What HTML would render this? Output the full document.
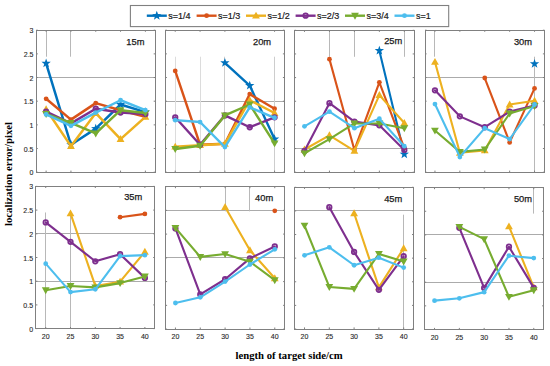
<!DOCTYPE html>
<html><head><meta charset="utf-8"><style>
html,body{margin:0;padding:0;background:#fff;}
body{width:550px;height:366px;overflow:hidden;}
svg{display:block;}
.t{font-family:"Liberation Sans",sans-serif;font-size:9.3px;fill:#1a1a1a;stroke:#1a1a1a;stroke-width:0.25px;}
.lg{font-family:"Liberation Sans",sans-serif;font-size:9px;fill:#1a1a1a;stroke:#1a1a1a;stroke-width:0.2px;}
.tk{font-family:"Liberation Sans",sans-serif;font-size:7px;fill:#2a2a2a;stroke:#2a2a2a;stroke-width:0.12px;}
.lab{font-family:"Liberation Serif",serif;font-size:10.7px;font-weight:bold;fill:#000;}
</style></head><body>
<svg width="550" height="366" viewBox="0 0 550 366">
<rect width="550" height="366" fill="#fff"/>
<line x1="36.2" y1="77.5" x2="155.3" y2="77.5" stroke="#ababab" stroke-width="1"/>
<line x1="46.5" y1="30.2" x2="46.5" y2="56.71" stroke="#b8b8b8" stroke-width="1"/>
<line x1="70.5" y1="30.2" x2="70.5" y2="56.71" stroke="#b8b8b8" stroke-width="1"/>
<line x1="46.12" y1="172.2" x2="46.12" y2="170.6" stroke="#808080" stroke-width="1"/>
<line x1="46.12" y1="30.2" x2="46.12" y2="31.8" stroke="#808080" stroke-width="1"/>
<line x1="70.94" y1="172.2" x2="70.94" y2="170.6" stroke="#808080" stroke-width="1"/>
<line x1="70.94" y1="30.2" x2="70.94" y2="31.8" stroke="#808080" stroke-width="1"/>
<line x1="95.75" y1="172.2" x2="95.75" y2="170.6" stroke="#808080" stroke-width="1"/>
<line x1="95.75" y1="30.2" x2="95.75" y2="31.8" stroke="#808080" stroke-width="1"/>
<line x1="120.56" y1="172.2" x2="120.56" y2="170.6" stroke="#808080" stroke-width="1"/>
<line x1="120.56" y1="30.2" x2="120.56" y2="31.8" stroke="#808080" stroke-width="1"/>
<line x1="145.38" y1="172.2" x2="145.38" y2="170.6" stroke="#808080" stroke-width="1"/>
<line x1="145.38" y1="30.2" x2="145.38" y2="31.8" stroke="#808080" stroke-width="1"/>
<line x1="36.2" y1="172.2" x2="37.8" y2="172.2" stroke="#808080" stroke-width="1"/>
<line x1="155.3" y1="172.2" x2="153.7" y2="172.2" stroke="#808080" stroke-width="1"/>
<line x1="36.2" y1="148.53" x2="37.8" y2="148.53" stroke="#808080" stroke-width="1"/>
<line x1="155.3" y1="148.53" x2="153.7" y2="148.53" stroke="#808080" stroke-width="1"/>
<line x1="36.2" y1="124.87" x2="37.8" y2="124.87" stroke="#808080" stroke-width="1"/>
<line x1="155.3" y1="124.87" x2="153.7" y2="124.87" stroke="#808080" stroke-width="1"/>
<line x1="36.2" y1="101.2" x2="37.8" y2="101.2" stroke="#808080" stroke-width="1"/>
<line x1="155.3" y1="101.2" x2="153.7" y2="101.2" stroke="#808080" stroke-width="1"/>
<line x1="36.2" y1="77.53" x2="37.8" y2="77.53" stroke="#808080" stroke-width="1"/>
<line x1="155.3" y1="77.53" x2="153.7" y2="77.53" stroke="#808080" stroke-width="1"/>
<line x1="36.2" y1="53.87" x2="37.8" y2="53.87" stroke="#808080" stroke-width="1"/>
<line x1="155.3" y1="53.87" x2="153.7" y2="53.87" stroke="#808080" stroke-width="1"/>
<line x1="36.2" y1="30.2" x2="37.8" y2="30.2" stroke="#808080" stroke-width="1"/>
<line x1="155.3" y1="30.2" x2="153.7" y2="30.2" stroke="#808080" stroke-width="1"/>
<rect x="36.5" y="30.5" width="119" height="142" fill="none" stroke="#808080" stroke-width="1"/>
<polyline points="46.12,63.33 70.94,144.75 95.75,128.65 120.56,104.51 145.38,112.09" fill="none" stroke="#0072BD" stroke-width="2.5" stroke-linejoin="round" stroke-linecap="round"/>
<polygon points="46.12,58.43 47.3,61.72 50.79,61.82 48.03,63.95 49.01,67.3 46.12,65.33 43.24,67.3 44.22,63.95 41.46,61.82 44.95,61.72" fill="#0072BD"/>
<polygon points="70.94,139.85 72.11,143.13 75.6,143.23 72.84,145.36 73.82,148.71 70.94,146.75 68.06,148.71 69.04,145.36 66.28,143.23 69.76,143.13" fill="#0072BD"/>
<polygon points="95.75,123.75 96.93,127.04 100.41,127.14 97.65,129.27 98.63,132.62 95.75,130.65 92.87,132.62 93.85,129.27 91.09,127.14 94.57,127.04" fill="#0072BD"/>
<polygon points="120.56,99.61 121.74,102.9 125.22,103 122.46,105.13 123.44,108.48 120.56,106.51 117.68,108.48 118.66,105.13 115.9,103 119.39,102.9" fill="#0072BD"/>
<polygon points="145.38,107.19 146.55,110.47 150.04,110.57 147.28,112.7 148.26,116.05 145.38,114.09 142.49,116.05 143.47,112.7 140.71,110.57 144.2,110.47" fill="#0072BD"/>
<polyline points="46.12,98.83 70.94,119.66 95.75,103.09 120.56,110.19 145.38,116.82" fill="none" stroke="#D95319" stroke-width="2.5" stroke-linejoin="round" stroke-linecap="round"/>
<circle cx="46.12" cy="98.83" r="2.4" fill="#D95319"/>
<circle cx="70.94" cy="119.66" r="2.4" fill="#D95319"/>
<circle cx="95.75" cy="103.09" r="2.4" fill="#D95319"/>
<circle cx="120.56" cy="110.19" r="2.4" fill="#D95319"/>
<circle cx="145.38" cy="116.82" r="2.4" fill="#D95319"/>
<polyline points="46.12,109.25 70.94,146.17 95.75,113.03 120.56,139.07 145.38,116.82" fill="none" stroke="#EDB120" stroke-width="2.5" stroke-linejoin="round" stroke-linecap="round"/>
<polygon points="46.12,105.25 42.23,112.15 50.02,112.15" fill="#EDB120"/>
<polygon points="70.94,142.17 67.04,149.07 74.84,149.07" fill="#EDB120"/>
<polygon points="95.75,109.03 91.85,115.93 99.65,115.93" fill="#EDB120"/>
<polygon points="120.56,135.07 116.66,141.97 124.46,141.97" fill="#EDB120"/>
<polygon points="145.38,112.82 141.47,119.72 149.28,119.72" fill="#EDB120"/>
<polyline points="46.12,111.61 70.94,123.45 95.75,108.77 120.56,112.56 145.38,113.98" fill="none" stroke="#7E2F8E" stroke-width="2.5" stroke-linejoin="round" stroke-linecap="round"/>
<circle cx="46.12" cy="111.61" r="2.25" fill="none" stroke="#7E2F8E" stroke-width="1.8"/>
<circle cx="70.94" cy="123.45" r="2.25" fill="none" stroke="#7E2F8E" stroke-width="1.8"/>
<circle cx="95.75" cy="108.77" r="2.25" fill="none" stroke="#7E2F8E" stroke-width="1.8"/>
<circle cx="120.56" cy="112.56" r="2.25" fill="none" stroke="#7E2F8E" stroke-width="1.8"/>
<circle cx="145.38" cy="113.98" r="2.25" fill="none" stroke="#7E2F8E" stroke-width="1.8"/>
<polyline points="46.12,113.98 70.94,122.97 95.75,133.39 120.56,110.19 145.38,113.03" fill="none" stroke="#77AC30" stroke-width="2.5" stroke-linejoin="round" stroke-linecap="round"/>
<polygon points="46.12,117.98 42.23,111.08 50.02,111.08" fill="#77AC30"/>
<polygon points="70.94,126.97 67.04,120.07 74.84,120.07" fill="#77AC30"/>
<polygon points="95.75,137.39 91.85,130.49 99.65,130.49" fill="#77AC30"/>
<polygon points="120.56,114.19 116.66,107.29 124.46,107.29" fill="#77AC30"/>
<polygon points="145.38,117.03 141.47,110.13 149.28,110.13" fill="#77AC30"/>
<polyline points="46.12,114.45 70.94,125.81 95.75,112.56 120.56,100.25 145.38,110.19" fill="none" stroke="#4DBEEE" stroke-width="2.5" stroke-linejoin="round" stroke-linecap="round"/>
<circle cx="46.12" cy="114.45" r="2.4" fill="#4DBEEE"/>
<circle cx="70.94" cy="125.81" r="2.4" fill="#4DBEEE"/>
<circle cx="95.75" cy="112.56" r="2.4" fill="#4DBEEE"/>
<circle cx="120.56" cy="100.25" r="2.4" fill="#4DBEEE"/>
<circle cx="145.38" cy="110.19" r="2.4" fill="#4DBEEE"/>
<text x="144.4" y="44.7" text-anchor="end" class="t">15m</text>
<text x="33.5" y="175.2" text-anchor="end" class="tk">0</text>
<text x="33.5" y="151.53" text-anchor="end" class="tk">0.5</text>
<text x="33.5" y="127.87" text-anchor="end" class="tk">1</text>
<text x="33.5" y="104.2" text-anchor="end" class="tk">1.5</text>
<text x="33.5" y="80.53" text-anchor="end" class="tk">2</text>
<text x="33.5" y="56.87" text-anchor="end" class="tk">2.5</text>
<text x="33.5" y="33.2" text-anchor="end" class="tk">3</text>
<line x1="165.3" y1="101.5" x2="284.5" y2="101.5" stroke="#ababab" stroke-width="1"/>
<line x1="175.5" y1="56.71" x2="175.5" y2="172.2" stroke="#dcdcdc" stroke-width="1"/>
<line x1="200.5" y1="56.71" x2="200.5" y2="172.2" stroke="#dcdcdc" stroke-width="1"/>
<line x1="224.5" y1="56.71" x2="224.5" y2="172.2" stroke="#cdcdcd" stroke-width="1"/>
<line x1="274.5" y1="56.71" x2="274.5" y2="172.2" stroke="#cdcdcd" stroke-width="1"/>
<line x1="175.23" y1="172.2" x2="175.23" y2="170.6" stroke="#808080" stroke-width="1"/>
<line x1="175.23" y1="30.2" x2="175.23" y2="31.8" stroke="#808080" stroke-width="1"/>
<line x1="200.07" y1="172.2" x2="200.07" y2="170.6" stroke="#808080" stroke-width="1"/>
<line x1="200.07" y1="30.2" x2="200.07" y2="31.8" stroke="#808080" stroke-width="1"/>
<line x1="224.9" y1="172.2" x2="224.9" y2="170.6" stroke="#808080" stroke-width="1"/>
<line x1="224.9" y1="30.2" x2="224.9" y2="31.8" stroke="#808080" stroke-width="1"/>
<line x1="249.73" y1="172.2" x2="249.73" y2="170.6" stroke="#808080" stroke-width="1"/>
<line x1="249.73" y1="30.2" x2="249.73" y2="31.8" stroke="#808080" stroke-width="1"/>
<line x1="274.57" y1="172.2" x2="274.57" y2="170.6" stroke="#808080" stroke-width="1"/>
<line x1="274.57" y1="30.2" x2="274.57" y2="31.8" stroke="#808080" stroke-width="1"/>
<line x1="165.3" y1="172.2" x2="166.9" y2="172.2" stroke="#808080" stroke-width="1"/>
<line x1="284.5" y1="172.2" x2="282.9" y2="172.2" stroke="#808080" stroke-width="1"/>
<line x1="165.3" y1="148.53" x2="166.9" y2="148.53" stroke="#808080" stroke-width="1"/>
<line x1="284.5" y1="148.53" x2="282.9" y2="148.53" stroke="#808080" stroke-width="1"/>
<line x1="165.3" y1="124.87" x2="166.9" y2="124.87" stroke="#808080" stroke-width="1"/>
<line x1="284.5" y1="124.87" x2="282.9" y2="124.87" stroke="#808080" stroke-width="1"/>
<line x1="165.3" y1="101.2" x2="166.9" y2="101.2" stroke="#808080" stroke-width="1"/>
<line x1="284.5" y1="101.2" x2="282.9" y2="101.2" stroke="#808080" stroke-width="1"/>
<line x1="165.3" y1="77.53" x2="166.9" y2="77.53" stroke="#808080" stroke-width="1"/>
<line x1="284.5" y1="77.53" x2="282.9" y2="77.53" stroke="#808080" stroke-width="1"/>
<line x1="165.3" y1="53.87" x2="166.9" y2="53.87" stroke="#808080" stroke-width="1"/>
<line x1="284.5" y1="53.87" x2="282.9" y2="53.87" stroke="#808080" stroke-width="1"/>
<line x1="165.3" y1="30.2" x2="166.9" y2="30.2" stroke="#808080" stroke-width="1"/>
<line x1="284.5" y1="30.2" x2="282.9" y2="30.2" stroke="#808080" stroke-width="1"/>
<rect x="165.5" y="30.5" width="119" height="142" fill="none" stroke="#808080" stroke-width="1"/>
<polyline points="224.9,62.86 249.73,85.58 274.57,139.07" fill="none" stroke="#0072BD" stroke-width="2.4" stroke-linejoin="round" stroke-linecap="round"/>
<polygon points="224.9,57.96 226.08,61.24 229.56,61.35 226.8,63.48 227.78,66.82 224.9,64.86 222.02,66.82 223,63.48 220.24,61.35 223.72,61.24" fill="#0072BD"/>
<polygon points="249.73,80.68 250.91,83.96 254.39,84.07 251.64,86.2 252.61,89.54 249.73,87.58 246.85,89.54 247.83,86.2 245.07,84.07 248.56,83.96" fill="#0072BD"/>
<polygon points="274.57,134.17 275.74,137.45 279.23,137.55 276.47,139.68 277.45,143.03 274.57,141.07 271.69,143.03 272.66,139.68 269.91,137.55 273.39,137.45" fill="#0072BD"/>
<polyline points="175.23,70.91 200.07,144.75 224.9,143.8 249.73,94.1 274.57,108.77" fill="none" stroke="#D95319" stroke-width="2.4" stroke-linejoin="round" stroke-linecap="round"/>
<circle cx="175.23" cy="70.91" r="2.4" fill="#D95319"/>
<circle cx="200.07" cy="144.75" r="2.4" fill="#D95319"/>
<circle cx="224.9" cy="143.8" r="2.4" fill="#D95319"/>
<circle cx="249.73" cy="94.1" r="2.4" fill="#D95319"/>
<circle cx="274.57" cy="108.77" r="2.4" fill="#D95319"/>
<polyline points="175.23,146.64 200.07,145.22 224.9,143.8 249.73,100.25 274.57,113.03" fill="none" stroke="#EDB120" stroke-width="2.4" stroke-linejoin="round" stroke-linecap="round"/>
<polygon points="175.23,142.64 171.33,149.54 179.13,149.54" fill="#EDB120"/>
<polygon points="200.07,141.22 196.17,148.12 203.97,148.12" fill="#EDB120"/>
<polygon points="224.9,139.8 221,146.7 228.8,146.7" fill="#EDB120"/>
<polygon points="249.73,96.25 245.83,103.15 253.63,103.15" fill="#EDB120"/>
<polygon points="274.57,109.03 270.67,115.93 278.47,115.93" fill="#EDB120"/>
<polyline points="175.23,117.29 200.07,144.75 224.9,115.4 249.73,127.23 274.57,117.29" fill="none" stroke="#7E2F8E" stroke-width="2.4" stroke-linejoin="round" stroke-linecap="round"/>
<circle cx="175.23" cy="117.29" r="2.25" fill="none" stroke="#7E2F8E" stroke-width="1.8"/>
<circle cx="200.07" cy="144.75" r="2.25" fill="none" stroke="#7E2F8E" stroke-width="1.8"/>
<circle cx="224.9" cy="115.4" r="2.25" fill="none" stroke="#7E2F8E" stroke-width="1.8"/>
<circle cx="249.73" cy="127.23" r="2.25" fill="none" stroke="#7E2F8E" stroke-width="1.8"/>
<circle cx="274.57" cy="117.29" r="2.25" fill="none" stroke="#7E2F8E" stroke-width="1.8"/>
<polyline points="175.23,149.01 200.07,145.69 224.9,115.4 249.73,104.51 274.57,143.33" fill="none" stroke="#77AC30" stroke-width="2.4" stroke-linejoin="round" stroke-linecap="round"/>
<polygon points="175.23,153.01 171.33,146.11 179.13,146.11" fill="#77AC30"/>
<polygon points="200.07,149.69 196.17,142.79 203.97,142.79" fill="#77AC30"/>
<polygon points="224.9,119.4 221,112.5 228.8,112.5" fill="#77AC30"/>
<polygon points="249.73,108.51 245.83,101.61 253.63,101.61" fill="#77AC30"/>
<polygon points="274.57,147.33 270.67,140.43 278.47,140.43" fill="#77AC30"/>
<polyline points="175.23,120.13 200.07,122.03 224.9,147.11 249.73,107.35 274.57,117.77" fill="none" stroke="#4DBEEE" stroke-width="2.4" stroke-linejoin="round" stroke-linecap="round"/>
<circle cx="175.23" cy="120.13" r="2.4" fill="#4DBEEE"/>
<circle cx="200.07" cy="122.03" r="2.4" fill="#4DBEEE"/>
<circle cx="224.9" cy="147.11" r="2.4" fill="#4DBEEE"/>
<circle cx="249.73" cy="107.35" r="2.4" fill="#4DBEEE"/>
<circle cx="274.57" cy="117.77" r="2.4" fill="#4DBEEE"/>
<text x="271.1" y="44.5" text-anchor="end" class="t">20m</text>
<line x1="294.5" y1="148.5" x2="414.3" y2="148.5" stroke="#ababab" stroke-width="1"/>
<line x1="329.5" y1="30.3" x2="329.5" y2="56.79" stroke="#b8b8b8" stroke-width="1"/>
<line x1="354.5" y1="30.3" x2="354.5" y2="56.79" stroke="#b8b8b8" stroke-width="1"/>
<line x1="404.5" y1="30.3" x2="404.5" y2="56.79" stroke="#b8b8b8" stroke-width="1"/>
<line x1="304.48" y1="172.2" x2="304.48" y2="170.6" stroke="#808080" stroke-width="1"/>
<line x1="304.48" y1="30.3" x2="304.48" y2="31.9" stroke="#808080" stroke-width="1"/>
<line x1="329.44" y1="172.2" x2="329.44" y2="170.6" stroke="#808080" stroke-width="1"/>
<line x1="329.44" y1="30.3" x2="329.44" y2="31.9" stroke="#808080" stroke-width="1"/>
<line x1="354.4" y1="172.2" x2="354.4" y2="170.6" stroke="#808080" stroke-width="1"/>
<line x1="354.4" y1="30.3" x2="354.4" y2="31.9" stroke="#808080" stroke-width="1"/>
<line x1="379.36" y1="172.2" x2="379.36" y2="170.6" stroke="#808080" stroke-width="1"/>
<line x1="379.36" y1="30.3" x2="379.36" y2="31.9" stroke="#808080" stroke-width="1"/>
<line x1="404.32" y1="172.2" x2="404.32" y2="170.6" stroke="#808080" stroke-width="1"/>
<line x1="404.32" y1="30.3" x2="404.32" y2="31.9" stroke="#808080" stroke-width="1"/>
<line x1="294.5" y1="172.2" x2="296.1" y2="172.2" stroke="#808080" stroke-width="1"/>
<line x1="414.3" y1="172.2" x2="412.7" y2="172.2" stroke="#808080" stroke-width="1"/>
<line x1="294.5" y1="148.55" x2="296.1" y2="148.55" stroke="#808080" stroke-width="1"/>
<line x1="414.3" y1="148.55" x2="412.7" y2="148.55" stroke="#808080" stroke-width="1"/>
<line x1="294.5" y1="124.9" x2="296.1" y2="124.9" stroke="#808080" stroke-width="1"/>
<line x1="414.3" y1="124.9" x2="412.7" y2="124.9" stroke="#808080" stroke-width="1"/>
<line x1="294.5" y1="101.25" x2="296.1" y2="101.25" stroke="#808080" stroke-width="1"/>
<line x1="414.3" y1="101.25" x2="412.7" y2="101.25" stroke="#808080" stroke-width="1"/>
<line x1="294.5" y1="77.6" x2="296.1" y2="77.6" stroke="#808080" stroke-width="1"/>
<line x1="414.3" y1="77.6" x2="412.7" y2="77.6" stroke="#808080" stroke-width="1"/>
<line x1="294.5" y1="53.95" x2="296.1" y2="53.95" stroke="#808080" stroke-width="1"/>
<line x1="414.3" y1="53.95" x2="412.7" y2="53.95" stroke="#808080" stroke-width="1"/>
<line x1="294.5" y1="30.3" x2="296.1" y2="30.3" stroke="#808080" stroke-width="1"/>
<line x1="414.3" y1="30.3" x2="412.7" y2="30.3" stroke="#808080" stroke-width="1"/>
<rect x="294.5" y="30.5" width="120" height="142" fill="none" stroke="#808080" stroke-width="1"/>
<polyline points="379.36,50.64 404.32,154.23" fill="none" stroke="#0072BD" stroke-width="2.1" stroke-linejoin="round" stroke-linecap="round"/>
<polygon points="379.36,45.74 380.53,49.02 384.02,49.12 381.26,51.26 382.24,54.6 379.36,52.64 376.48,54.6 377.46,51.26 374.7,49.12 378.18,49.02" fill="#0072BD"/>
<polygon points="404.32,149.33 405.49,152.61 408.98,152.71 406.22,154.84 407.2,158.19 404.32,156.23 401.44,158.19 402.41,154.84 399.66,152.71 403.14,152.61" fill="#0072BD"/>
<polyline points="329.44,59.15 354.4,149.97 379.36,82.33 404.32,148.08" fill="none" stroke="#D95319" stroke-width="2.1" stroke-linejoin="round" stroke-linecap="round"/>
<circle cx="329.44" cy="59.15" r="2.4" fill="#D95319"/>
<circle cx="354.4" cy="149.97" r="2.4" fill="#D95319"/>
<circle cx="379.36" cy="82.33" r="2.4" fill="#D95319"/>
<circle cx="404.32" cy="148.08" r="2.4" fill="#D95319"/>
<polyline points="304.48,149.5 329.44,135.31 354.4,150.91 379.36,95.1 404.32,123.01" fill="none" stroke="#EDB120" stroke-width="2.1" stroke-linejoin="round" stroke-linecap="round"/>
<polygon points="304.48,145.5 300.58,152.4 308.38,152.4" fill="#EDB120"/>
<polygon points="329.44,131.31 325.54,138.21 333.34,138.21" fill="#EDB120"/>
<polygon points="354.4,146.91 350.5,153.81 358.3,153.81" fill="#EDB120"/>
<polygon points="379.36,91.1 375.46,98 383.26,98" fill="#EDB120"/>
<polygon points="404.32,119.01 400.42,125.91 408.22,125.91" fill="#EDB120"/>
<polyline points="304.48,150.91 329.44,103.14 354.4,121.59 379.36,125.37 404.32,149.97" fill="none" stroke="#7E2F8E" stroke-width="2.1" stroke-linejoin="round" stroke-linecap="round"/>
<circle cx="304.48" cy="150.91" r="2.25" fill="none" stroke="#7E2F8E" stroke-width="1.8"/>
<circle cx="329.44" cy="103.14" r="2.25" fill="none" stroke="#7E2F8E" stroke-width="1.8"/>
<circle cx="354.4" cy="121.59" r="2.25" fill="none" stroke="#7E2F8E" stroke-width="1.8"/>
<circle cx="379.36" cy="125.37" r="2.25" fill="none" stroke="#7E2F8E" stroke-width="1.8"/>
<circle cx="404.32" cy="149.97" r="2.25" fill="none" stroke="#7E2F8E" stroke-width="1.8"/>
<polyline points="304.48,153.28 329.44,139.09 354.4,123.48 379.36,123.48 404.32,128.21" fill="none" stroke="#77AC30" stroke-width="2.1" stroke-linejoin="round" stroke-linecap="round"/>
<polygon points="304.48,157.28 300.58,150.38 308.38,150.38" fill="#77AC30"/>
<polygon points="329.44,143.09 325.54,136.19 333.34,136.19" fill="#77AC30"/>
<polygon points="354.4,127.48 350.5,120.58 358.3,120.58" fill="#77AC30"/>
<polygon points="379.36,127.48 375.46,120.58 383.26,120.58" fill="#77AC30"/>
<polygon points="404.32,132.21 400.42,125.31 408.22,125.31" fill="#77AC30"/>
<polyline points="304.48,126.32 329.44,111.66 354.4,128.21 379.36,118.75 404.32,146.19" fill="none" stroke="#4DBEEE" stroke-width="2.1" stroke-linejoin="round" stroke-linecap="round"/>
<circle cx="304.48" cy="126.32" r="2.4" fill="#4DBEEE"/>
<circle cx="329.44" cy="111.66" r="2.4" fill="#4DBEEE"/>
<circle cx="354.4" cy="128.21" r="2.4" fill="#4DBEEE"/>
<circle cx="379.36" cy="118.75" r="2.4" fill="#4DBEEE"/>
<circle cx="404.32" cy="146.19" r="2.4" fill="#4DBEEE"/>
<text x="402.3" y="43.8" text-anchor="end" class="t">25m</text>
<line x1="425" y1="77.5" x2="544.5" y2="77.5" stroke="#ababab" stroke-width="1"/>
<line x1="434.5" y1="30.2" x2="434.5" y2="56.71" stroke="#b8b8b8" stroke-width="1"/>
<line x1="534.5" y1="56.71" x2="534.5" y2="172.2" stroke="#b8b8b8" stroke-width="1"/>
<line x1="434.96" y1="172.2" x2="434.96" y2="170.6" stroke="#808080" stroke-width="1"/>
<line x1="434.96" y1="30.2" x2="434.96" y2="31.8" stroke="#808080" stroke-width="1"/>
<line x1="459.85" y1="172.2" x2="459.85" y2="170.6" stroke="#808080" stroke-width="1"/>
<line x1="459.85" y1="30.2" x2="459.85" y2="31.8" stroke="#808080" stroke-width="1"/>
<line x1="484.75" y1="172.2" x2="484.75" y2="170.6" stroke="#808080" stroke-width="1"/>
<line x1="484.75" y1="30.2" x2="484.75" y2="31.8" stroke="#808080" stroke-width="1"/>
<line x1="509.65" y1="172.2" x2="509.65" y2="170.6" stroke="#808080" stroke-width="1"/>
<line x1="509.65" y1="30.2" x2="509.65" y2="31.8" stroke="#808080" stroke-width="1"/>
<line x1="534.54" y1="172.2" x2="534.54" y2="170.6" stroke="#808080" stroke-width="1"/>
<line x1="534.54" y1="30.2" x2="534.54" y2="31.8" stroke="#808080" stroke-width="1"/>
<line x1="425" y1="172.2" x2="426.6" y2="172.2" stroke="#808080" stroke-width="1"/>
<line x1="544.5" y1="172.2" x2="542.9" y2="172.2" stroke="#808080" stroke-width="1"/>
<line x1="425" y1="148.53" x2="426.6" y2="148.53" stroke="#808080" stroke-width="1"/>
<line x1="544.5" y1="148.53" x2="542.9" y2="148.53" stroke="#808080" stroke-width="1"/>
<line x1="425" y1="124.87" x2="426.6" y2="124.87" stroke="#808080" stroke-width="1"/>
<line x1="544.5" y1="124.87" x2="542.9" y2="124.87" stroke="#808080" stroke-width="1"/>
<line x1="425" y1="101.2" x2="426.6" y2="101.2" stroke="#808080" stroke-width="1"/>
<line x1="544.5" y1="101.2" x2="542.9" y2="101.2" stroke="#808080" stroke-width="1"/>
<line x1="425" y1="77.53" x2="426.6" y2="77.53" stroke="#808080" stroke-width="1"/>
<line x1="544.5" y1="77.53" x2="542.9" y2="77.53" stroke="#808080" stroke-width="1"/>
<line x1="425" y1="53.87" x2="426.6" y2="53.87" stroke="#808080" stroke-width="1"/>
<line x1="544.5" y1="53.87" x2="542.9" y2="53.87" stroke="#808080" stroke-width="1"/>
<line x1="425" y1="30.2" x2="426.6" y2="30.2" stroke="#808080" stroke-width="1"/>
<line x1="544.5" y1="30.2" x2="542.9" y2="30.2" stroke="#808080" stroke-width="1"/>
<rect x="425.5" y="30.5" width="119" height="142" fill="none" stroke="#808080" stroke-width="1"/>
<polygon points="534.54,58.91 535.72,62.19 539.2,62.29 536.44,64.42 537.42,67.77 534.54,65.81 531.66,67.77 532.64,64.42 529.88,62.29 533.37,62.19" fill="#0072BD"/>
<polyline points="484.75,78.01 509.65,142.38 534.54,88.42" fill="none" stroke="#D95319" stroke-width="2.1" stroke-linejoin="round" stroke-linecap="round"/>
<circle cx="484.75" cy="78.01" r="2.4" fill="#D95319"/>
<circle cx="509.65" cy="142.38" r="2.4" fill="#D95319"/>
<circle cx="534.54" cy="88.42" r="2.4" fill="#D95319"/>
<polyline points="434.96,61.91 459.85,152.79 484.75,150.43 509.65,104.51 534.54,100.73" fill="none" stroke="#EDB120" stroke-width="2.1" stroke-linejoin="round" stroke-linecap="round"/>
<polygon points="434.96,57.91 431.06,64.81 438.86,64.81" fill="#EDB120"/>
<polygon points="459.85,148.79 455.95,155.69 463.75,155.69" fill="#EDB120"/>
<polygon points="484.75,146.43 480.85,153.33 488.65,153.33" fill="#EDB120"/>
<polygon points="509.65,100.51 505.75,107.41 513.55,107.41" fill="#EDB120"/>
<polygon points="534.54,96.73 530.64,103.63 538.44,103.63" fill="#EDB120"/>
<polyline points="434.96,90.31 459.85,116.35 484.75,127.23 509.65,111.61 534.54,105.46" fill="none" stroke="#7E2F8E" stroke-width="2.1" stroke-linejoin="round" stroke-linecap="round"/>
<circle cx="434.96" cy="90.31" r="2.25" fill="none" stroke="#7E2F8E" stroke-width="1.8"/>
<circle cx="459.85" cy="116.35" r="2.25" fill="none" stroke="#7E2F8E" stroke-width="1.8"/>
<circle cx="484.75" cy="127.23" r="2.25" fill="none" stroke="#7E2F8E" stroke-width="1.8"/>
<circle cx="509.65" cy="111.61" r="2.25" fill="none" stroke="#7E2F8E" stroke-width="1.8"/>
<circle cx="534.54" cy="105.46" r="2.25" fill="none" stroke="#7E2F8E" stroke-width="1.8"/>
<polyline points="434.96,130.55 459.85,151.85 484.75,149.48 509.65,113.51 534.54,105.93" fill="none" stroke="#77AC30" stroke-width="2.1" stroke-linejoin="round" stroke-linecap="round"/>
<polygon points="434.96,134.55 431.06,127.65 438.86,127.65" fill="#77AC30"/>
<polygon points="459.85,155.85 455.95,148.95 463.75,148.95" fill="#77AC30"/>
<polygon points="484.75,153.48 480.85,146.58 488.65,146.58" fill="#77AC30"/>
<polygon points="509.65,117.51 505.75,110.61 513.55,110.61" fill="#77AC30"/>
<polygon points="534.54,109.93 530.64,103.03 538.44,103.03" fill="#77AC30"/>
<polyline points="434.96,104.04 459.85,157.05 484.75,128.18 509.65,139.07 534.54,104.51" fill="none" stroke="#4DBEEE" stroke-width="2.1" stroke-linejoin="round" stroke-linecap="round"/>
<circle cx="434.96" cy="104.04" r="2.4" fill="#4DBEEE"/>
<circle cx="459.85" cy="157.05" r="2.4" fill="#4DBEEE"/>
<circle cx="484.75" cy="128.18" r="2.4" fill="#4DBEEE"/>
<circle cx="509.65" cy="139.07" r="2.4" fill="#4DBEEE"/>
<circle cx="534.54" cy="104.51" r="2.4" fill="#4DBEEE"/>
<text x="532" y="44.7" text-anchor="end" class="t">30m</text>
<line x1="35.8" y1="233.5" x2="154.8" y2="233.5" stroke="#ababab" stroke-width="1"/>
<line x1="35.8" y1="281.5" x2="154.8" y2="281.5" stroke="#ababab" stroke-width="1"/>
<line x1="45.5" y1="212.47" x2="45.5" y2="328.6" stroke="#b8b8b8" stroke-width="1"/>
<line x1="70.5" y1="212.47" x2="70.5" y2="328.6" stroke="#b8b8b8" stroke-width="1"/>
<line x1="45.72" y1="328.6" x2="45.72" y2="327" stroke="#808080" stroke-width="1"/>
<line x1="45.72" y1="186.4" x2="45.72" y2="188" stroke="#808080" stroke-width="1"/>
<line x1="70.51" y1="328.6" x2="70.51" y2="327" stroke="#808080" stroke-width="1"/>
<line x1="70.51" y1="186.4" x2="70.51" y2="188" stroke="#808080" stroke-width="1"/>
<line x1="95.3" y1="328.6" x2="95.3" y2="327" stroke="#808080" stroke-width="1"/>
<line x1="95.3" y1="186.4" x2="95.3" y2="188" stroke="#808080" stroke-width="1"/>
<line x1="120.09" y1="328.6" x2="120.09" y2="327" stroke="#808080" stroke-width="1"/>
<line x1="120.09" y1="186.4" x2="120.09" y2="188" stroke="#808080" stroke-width="1"/>
<line x1="144.88" y1="328.6" x2="144.88" y2="327" stroke="#808080" stroke-width="1"/>
<line x1="144.88" y1="186.4" x2="144.88" y2="188" stroke="#808080" stroke-width="1"/>
<line x1="35.8" y1="328.6" x2="37.4" y2="328.6" stroke="#808080" stroke-width="1"/>
<line x1="154.8" y1="328.6" x2="153.2" y2="328.6" stroke="#808080" stroke-width="1"/>
<line x1="35.8" y1="304.9" x2="37.4" y2="304.9" stroke="#808080" stroke-width="1"/>
<line x1="154.8" y1="304.9" x2="153.2" y2="304.9" stroke="#808080" stroke-width="1"/>
<line x1="35.8" y1="281.2" x2="37.4" y2="281.2" stroke="#808080" stroke-width="1"/>
<line x1="154.8" y1="281.2" x2="153.2" y2="281.2" stroke="#808080" stroke-width="1"/>
<line x1="35.8" y1="257.5" x2="37.4" y2="257.5" stroke="#808080" stroke-width="1"/>
<line x1="154.8" y1="257.5" x2="153.2" y2="257.5" stroke="#808080" stroke-width="1"/>
<line x1="35.8" y1="233.8" x2="37.4" y2="233.8" stroke="#808080" stroke-width="1"/>
<line x1="154.8" y1="233.8" x2="153.2" y2="233.8" stroke="#808080" stroke-width="1"/>
<line x1="35.8" y1="210.1" x2="37.4" y2="210.1" stroke="#808080" stroke-width="1"/>
<line x1="154.8" y1="210.1" x2="153.2" y2="210.1" stroke="#808080" stroke-width="1"/>
<line x1="35.8" y1="186.4" x2="37.4" y2="186.4" stroke="#808080" stroke-width="1"/>
<line x1="154.8" y1="186.4" x2="153.2" y2="186.4" stroke="#808080" stroke-width="1"/>
<rect x="35.5" y="186.5" width="119" height="142" fill="none" stroke="#808080" stroke-width="1"/>
<polyline points="120.09,217.21 144.88,213.89" fill="none" stroke="#D95319" stroke-width="2.1" stroke-linejoin="round" stroke-linecap="round"/>
<circle cx="120.09" cy="217.21" r="2.4" fill="#D95319"/>
<circle cx="144.88" cy="213.89" r="2.4" fill="#D95319"/>
<polyline points="70.51,213.42 95.3,285.94 120.09,281.67 144.88,251.81" fill="none" stroke="#EDB120" stroke-width="2.1" stroke-linejoin="round" stroke-linecap="round"/>
<polygon points="70.51,209.42 66.61,216.32 74.41,216.32" fill="#EDB120"/>
<polygon points="95.3,281.94 91.4,288.84 99.2,288.84" fill="#EDB120"/>
<polygon points="120.09,277.67 116.19,284.57 123.99,284.57" fill="#EDB120"/>
<polygon points="144.88,247.81 140.98,254.71 148.78,254.71" fill="#EDB120"/>
<polyline points="45.72,222.42 70.51,241.86 95.3,261.29 120.09,254.18 144.88,277.88" fill="none" stroke="#7E2F8E" stroke-width="2.1" stroke-linejoin="round" stroke-linecap="round"/>
<circle cx="45.72" cy="222.42" r="2.25" fill="none" stroke="#7E2F8E" stroke-width="1.8"/>
<circle cx="70.51" cy="241.86" r="2.25" fill="none" stroke="#7E2F8E" stroke-width="1.8"/>
<circle cx="95.3" cy="261.29" r="2.25" fill="none" stroke="#7E2F8E" stroke-width="1.8"/>
<circle cx="120.09" cy="254.18" r="2.25" fill="none" stroke="#7E2F8E" stroke-width="1.8"/>
<circle cx="144.88" cy="277.88" r="2.25" fill="none" stroke="#7E2F8E" stroke-width="1.8"/>
<polyline points="45.72,290.21 70.51,285.94 95.3,287.36 120.09,283.1 144.88,276.46" fill="none" stroke="#77AC30" stroke-width="2.1" stroke-linejoin="round" stroke-linecap="round"/>
<polygon points="45.72,294.21 41.82,287.31 49.62,287.31" fill="#77AC30"/>
<polygon points="70.51,289.94 66.61,283.04 74.41,283.04" fill="#77AC30"/>
<polygon points="95.3,291.36 91.4,284.46 99.2,284.46" fill="#77AC30"/>
<polygon points="120.09,287.1 116.19,280.2 123.99,280.2" fill="#77AC30"/>
<polygon points="144.88,280.46 140.98,273.56 148.78,273.56" fill="#77AC30"/>
<polyline points="45.72,263.66 70.51,292.1 95.3,289.26 120.09,256.08 144.88,255.13" fill="none" stroke="#4DBEEE" stroke-width="2.1" stroke-linejoin="round" stroke-linecap="round"/>
<circle cx="45.72" cy="263.66" r="2.4" fill="#4DBEEE"/>
<circle cx="70.51" cy="292.1" r="2.4" fill="#4DBEEE"/>
<circle cx="95.3" cy="289.26" r="2.4" fill="#4DBEEE"/>
<circle cx="120.09" cy="256.08" r="2.4" fill="#4DBEEE"/>
<circle cx="144.88" cy="255.13" r="2.4" fill="#4DBEEE"/>
<text x="142.3" y="200" text-anchor="end" class="t">35m</text>
<text x="33.1" y="331.6" text-anchor="end" class="tk">0</text>
<text x="33.1" y="307.9" text-anchor="end" class="tk">0.5</text>
<text x="33.1" y="284.2" text-anchor="end" class="tk">1</text>
<text x="33.1" y="260.5" text-anchor="end" class="tk">1.5</text>
<text x="33.1" y="236.8" text-anchor="end" class="tk">2</text>
<text x="33.1" y="213.1" text-anchor="end" class="tk">2.5</text>
<text x="33.1" y="189.4" text-anchor="end" class="tk">3</text>
<text x="45.72" y="338.6" text-anchor="middle" class="tk">20</text>
<text x="70.51" y="338.6" text-anchor="middle" class="tk">25</text>
<text x="95.3" y="338.6" text-anchor="middle" class="tk">30</text>
<text x="120.09" y="338.6" text-anchor="middle" class="tk">35</text>
<text x="144.88" y="338.6" text-anchor="middle" class="tk">40</text>
<line x1="165.5" y1="210.5" x2="284.7" y2="210.5" stroke="#ababab" stroke-width="1"/>
<line x1="165.5" y1="257.5" x2="284.7" y2="257.5" stroke="#ababab" stroke-width="1"/>
<line x1="225.5" y1="186.6" x2="225.5" y2="211.3" stroke="#b8b8b8" stroke-width="1"/>
<line x1="249.5" y1="186.6" x2="249.5" y2="211.3" stroke="#b8b8b8" stroke-width="1"/>
<line x1="175.43" y1="329.1" x2="175.43" y2="327.5" stroke="#808080" stroke-width="1"/>
<line x1="175.43" y1="186.6" x2="175.43" y2="188.2" stroke="#808080" stroke-width="1"/>
<line x1="200.27" y1="329.1" x2="200.27" y2="327.5" stroke="#808080" stroke-width="1"/>
<line x1="200.27" y1="186.6" x2="200.27" y2="188.2" stroke="#808080" stroke-width="1"/>
<line x1="225.1" y1="329.1" x2="225.1" y2="327.5" stroke="#808080" stroke-width="1"/>
<line x1="225.1" y1="186.6" x2="225.1" y2="188.2" stroke="#808080" stroke-width="1"/>
<line x1="249.93" y1="329.1" x2="249.93" y2="327.5" stroke="#808080" stroke-width="1"/>
<line x1="249.93" y1="186.6" x2="249.93" y2="188.2" stroke="#808080" stroke-width="1"/>
<line x1="274.77" y1="329.1" x2="274.77" y2="327.5" stroke="#808080" stroke-width="1"/>
<line x1="274.77" y1="186.6" x2="274.77" y2="188.2" stroke="#808080" stroke-width="1"/>
<line x1="165.5" y1="329.1" x2="167.1" y2="329.1" stroke="#808080" stroke-width="1"/>
<line x1="284.7" y1="329.1" x2="283.1" y2="329.1" stroke="#808080" stroke-width="1"/>
<line x1="165.5" y1="305.35" x2="167.1" y2="305.35" stroke="#808080" stroke-width="1"/>
<line x1="284.7" y1="305.35" x2="283.1" y2="305.35" stroke="#808080" stroke-width="1"/>
<line x1="165.5" y1="281.6" x2="167.1" y2="281.6" stroke="#808080" stroke-width="1"/>
<line x1="284.7" y1="281.6" x2="283.1" y2="281.6" stroke="#808080" stroke-width="1"/>
<line x1="165.5" y1="257.85" x2="167.1" y2="257.85" stroke="#808080" stroke-width="1"/>
<line x1="284.7" y1="257.85" x2="283.1" y2="257.85" stroke="#808080" stroke-width="1"/>
<line x1="165.5" y1="234.1" x2="167.1" y2="234.1" stroke="#808080" stroke-width="1"/>
<line x1="284.7" y1="234.1" x2="283.1" y2="234.1" stroke="#808080" stroke-width="1"/>
<line x1="165.5" y1="210.35" x2="167.1" y2="210.35" stroke="#808080" stroke-width="1"/>
<line x1="284.7" y1="210.35" x2="283.1" y2="210.35" stroke="#808080" stroke-width="1"/>
<line x1="165.5" y1="186.6" x2="167.1" y2="186.6" stroke="#808080" stroke-width="1"/>
<line x1="284.7" y1="186.6" x2="283.1" y2="186.6" stroke="#808080" stroke-width="1"/>
<rect x="165.5" y="186.5" width="119" height="143" fill="none" stroke="#808080" stroke-width="1"/>
<circle cx="274.77" cy="210.82" r="2.4" fill="#D95319"/>
<polyline points="225.1,207.03 249.93,250.25 274.77,278.28" fill="none" stroke="#EDB120" stroke-width="2.1" stroke-linejoin="round" stroke-linecap="round"/>
<polygon points="225.1,203.03 221.2,209.93 229,209.93" fill="#EDB120"/>
<polygon points="249.93,246.25 246.03,253.15 253.83,253.15" fill="#EDB120"/>
<polygon points="274.77,274.28 270.87,281.18 278.67,281.18" fill="#EDB120"/>
<polyline points="175.43,228.4 200.27,294.43 225.1,279.23 249.93,258.33 274.77,246.45" fill="none" stroke="#7E2F8E" stroke-width="2.1" stroke-linejoin="round" stroke-linecap="round"/>
<circle cx="175.43" cy="228.4" r="2.25" fill="none" stroke="#7E2F8E" stroke-width="1.8"/>
<circle cx="200.27" cy="294.43" r="2.25" fill="none" stroke="#7E2F8E" stroke-width="1.8"/>
<circle cx="225.1" cy="279.23" r="2.25" fill="none" stroke="#7E2F8E" stroke-width="1.8"/>
<circle cx="249.93" cy="258.33" r="2.25" fill="none" stroke="#7E2F8E" stroke-width="1.8"/>
<circle cx="274.77" cy="246.45" r="2.25" fill="none" stroke="#7E2F8E" stroke-width="1.8"/>
<polyline points="175.43,227.93 200.27,256.9 225.1,254.05 249.93,261.65 274.77,280.18" fill="none" stroke="#77AC30" stroke-width="2.1" stroke-linejoin="round" stroke-linecap="round"/>
<polygon points="175.43,231.93 171.53,225.03 179.33,225.03" fill="#77AC30"/>
<polygon points="200.27,260.9 196.37,254 204.17,254" fill="#77AC30"/>
<polygon points="225.1,258.05 221.2,251.15 229,251.15" fill="#77AC30"/>
<polygon points="249.93,265.65 246.03,258.75 253.83,258.75" fill="#77AC30"/>
<polygon points="274.77,284.18 270.87,277.28 278.67,277.28" fill="#77AC30"/>
<polyline points="175.43,302.98 200.27,297.28 225.1,281.6 249.93,264.5 274.77,249.3" fill="none" stroke="#4DBEEE" stroke-width="2.1" stroke-linejoin="round" stroke-linecap="round"/>
<circle cx="175.43" cy="302.98" r="2.4" fill="#4DBEEE"/>
<circle cx="200.27" cy="297.28" r="2.4" fill="#4DBEEE"/>
<circle cx="225.1" cy="281.6" r="2.4" fill="#4DBEEE"/>
<circle cx="249.93" cy="264.5" r="2.4" fill="#4DBEEE"/>
<circle cx="274.77" cy="249.3" r="2.4" fill="#4DBEEE"/>
<text x="273.2" y="200.9" text-anchor="end" class="t">40m</text>
<text x="175.43" y="339.1" text-anchor="middle" class="tk">20</text>
<text x="200.27" y="339.1" text-anchor="middle" class="tk">25</text>
<text x="225.1" y="339.1" text-anchor="middle" class="tk">30</text>
<text x="249.93" y="339.1" text-anchor="middle" class="tk">35</text>
<text x="274.77" y="339.1" text-anchor="middle" class="tk">40</text>
<line x1="294.6" y1="210.5" x2="413.6" y2="210.5" stroke="#ababab" stroke-width="1"/>
<line x1="403.5" y1="214.7" x2="403.5" y2="329" stroke="#b8b8b8" stroke-width="1"/>
<line x1="304.52" y1="329" x2="304.52" y2="327.4" stroke="#808080" stroke-width="1"/>
<line x1="304.52" y1="187.3" x2="304.52" y2="188.9" stroke="#808080" stroke-width="1"/>
<line x1="329.31" y1="329" x2="329.31" y2="327.4" stroke="#808080" stroke-width="1"/>
<line x1="329.31" y1="187.3" x2="329.31" y2="188.9" stroke="#808080" stroke-width="1"/>
<line x1="354.1" y1="329" x2="354.1" y2="327.4" stroke="#808080" stroke-width="1"/>
<line x1="354.1" y1="187.3" x2="354.1" y2="188.9" stroke="#808080" stroke-width="1"/>
<line x1="378.89" y1="329" x2="378.89" y2="327.4" stroke="#808080" stroke-width="1"/>
<line x1="378.89" y1="187.3" x2="378.89" y2="188.9" stroke="#808080" stroke-width="1"/>
<line x1="403.68" y1="329" x2="403.68" y2="327.4" stroke="#808080" stroke-width="1"/>
<line x1="403.68" y1="187.3" x2="403.68" y2="188.9" stroke="#808080" stroke-width="1"/>
<line x1="294.6" y1="329" x2="296.2" y2="329" stroke="#808080" stroke-width="1"/>
<line x1="413.6" y1="329" x2="412" y2="329" stroke="#808080" stroke-width="1"/>
<line x1="294.6" y1="305.38" x2="296.2" y2="305.38" stroke="#808080" stroke-width="1"/>
<line x1="413.6" y1="305.38" x2="412" y2="305.38" stroke="#808080" stroke-width="1"/>
<line x1="294.6" y1="281.77" x2="296.2" y2="281.77" stroke="#808080" stroke-width="1"/>
<line x1="413.6" y1="281.77" x2="412" y2="281.77" stroke="#808080" stroke-width="1"/>
<line x1="294.6" y1="258.15" x2="296.2" y2="258.15" stroke="#808080" stroke-width="1"/>
<line x1="413.6" y1="258.15" x2="412" y2="258.15" stroke="#808080" stroke-width="1"/>
<line x1="294.6" y1="234.53" x2="296.2" y2="234.53" stroke="#808080" stroke-width="1"/>
<line x1="413.6" y1="234.53" x2="412" y2="234.53" stroke="#808080" stroke-width="1"/>
<line x1="294.6" y1="210.92" x2="296.2" y2="210.92" stroke="#808080" stroke-width="1"/>
<line x1="413.6" y1="210.92" x2="412" y2="210.92" stroke="#808080" stroke-width="1"/>
<line x1="294.6" y1="187.3" x2="296.2" y2="187.3" stroke="#808080" stroke-width="1"/>
<line x1="413.6" y1="187.3" x2="412" y2="187.3" stroke="#808080" stroke-width="1"/>
<rect x="294.5" y="187.5" width="119" height="142" fill="none" stroke="#808080" stroke-width="1"/>
<polyline points="354.1,213.28 378.89,287.43 403.68,248.23" fill="none" stroke="#EDB120" stroke-width="2.1" stroke-linejoin="round" stroke-linecap="round"/>
<polygon points="354.1,209.28 350.2,216.18 358,216.18" fill="#EDB120"/>
<polygon points="378.89,283.43 374.99,290.33 382.79,290.33" fill="#EDB120"/>
<polygon points="403.68,244.23 399.78,251.13 407.58,251.13" fill="#EDB120"/>
<polyline points="329.31,207.14 354.1,252.01 378.89,289.8 403.68,256.26" fill="none" stroke="#7E2F8E" stroke-width="2.1" stroke-linejoin="round" stroke-linecap="round"/>
<circle cx="329.31" cy="207.14" r="2.25" fill="none" stroke="#7E2F8E" stroke-width="1.8"/>
<circle cx="354.1" cy="252.01" r="2.25" fill="none" stroke="#7E2F8E" stroke-width="1.8"/>
<circle cx="378.89" cy="289.8" r="2.25" fill="none" stroke="#7E2F8E" stroke-width="1.8"/>
<circle cx="403.68" cy="256.26" r="2.25" fill="none" stroke="#7E2F8E" stroke-width="1.8"/>
<polyline points="304.52,225.56 329.31,286.96 354.1,288.85 378.89,253.9 403.68,261.46" fill="none" stroke="#77AC30" stroke-width="2.1" stroke-linejoin="round" stroke-linecap="round"/>
<polygon points="304.52,229.56 300.62,222.66 308.42,222.66" fill="#77AC30"/>
<polygon points="329.31,290.96 325.41,284.06 333.21,284.06" fill="#77AC30"/>
<polygon points="354.1,292.85 350.2,285.95 358,285.95" fill="#77AC30"/>
<polygon points="378.89,257.9 374.99,251 382.79,251" fill="#77AC30"/>
<polygon points="403.68,265.46 399.78,258.56 407.58,258.56" fill="#77AC30"/>
<polyline points="304.52,255.32 329.31,247.29 354.1,265.24 378.89,257.68 403.68,267.6" fill="none" stroke="#4DBEEE" stroke-width="2.1" stroke-linejoin="round" stroke-linecap="round"/>
<circle cx="304.52" cy="255.32" r="2.4" fill="#4DBEEE"/>
<circle cx="329.31" cy="247.29" r="2.4" fill="#4DBEEE"/>
<circle cx="354.1" cy="265.24" r="2.4" fill="#4DBEEE"/>
<circle cx="378.89" cy="257.68" r="2.4" fill="#4DBEEE"/>
<circle cx="403.68" cy="267.6" r="2.4" fill="#4DBEEE"/>
<text x="402.3" y="201.8" text-anchor="end" class="t">45m</text>
<text x="304.52" y="339" text-anchor="middle" class="tk">20</text>
<text x="329.31" y="339" text-anchor="middle" class="tk">25</text>
<text x="354.1" y="339" text-anchor="middle" class="tk">30</text>
<text x="378.89" y="339" text-anchor="middle" class="tk">35</text>
<text x="403.68" y="339" text-anchor="middle" class="tk">40</text>
<line x1="424.6" y1="234.5" x2="543.7" y2="234.5" stroke="#ababab" stroke-width="1"/>
<line x1="424.6" y1="282.5" x2="543.7" y2="282.5" stroke="#ababab" stroke-width="1"/>
<line x1="533.5" y1="187.6" x2="533.5" y2="213.61" stroke="#b8b8b8" stroke-width="1"/>
<line x1="434.53" y1="329.5" x2="434.53" y2="327.9" stroke="#808080" stroke-width="1"/>
<line x1="434.53" y1="187.6" x2="434.53" y2="189.2" stroke="#808080" stroke-width="1"/>
<line x1="459.34" y1="329.5" x2="459.34" y2="327.9" stroke="#808080" stroke-width="1"/>
<line x1="459.34" y1="187.6" x2="459.34" y2="189.2" stroke="#808080" stroke-width="1"/>
<line x1="484.15" y1="329.5" x2="484.15" y2="327.9" stroke="#808080" stroke-width="1"/>
<line x1="484.15" y1="187.6" x2="484.15" y2="189.2" stroke="#808080" stroke-width="1"/>
<line x1="508.96" y1="329.5" x2="508.96" y2="327.9" stroke="#808080" stroke-width="1"/>
<line x1="508.96" y1="187.6" x2="508.96" y2="189.2" stroke="#808080" stroke-width="1"/>
<line x1="533.78" y1="329.5" x2="533.78" y2="327.9" stroke="#808080" stroke-width="1"/>
<line x1="533.78" y1="187.6" x2="533.78" y2="189.2" stroke="#808080" stroke-width="1"/>
<line x1="424.6" y1="329.5" x2="426.2" y2="329.5" stroke="#808080" stroke-width="1"/>
<line x1="543.7" y1="329.5" x2="542.1" y2="329.5" stroke="#808080" stroke-width="1"/>
<line x1="424.6" y1="305.85" x2="426.2" y2="305.85" stroke="#808080" stroke-width="1"/>
<line x1="543.7" y1="305.85" x2="542.1" y2="305.85" stroke="#808080" stroke-width="1"/>
<line x1="424.6" y1="282.2" x2="426.2" y2="282.2" stroke="#808080" stroke-width="1"/>
<line x1="543.7" y1="282.2" x2="542.1" y2="282.2" stroke="#808080" stroke-width="1"/>
<line x1="424.6" y1="258.55" x2="426.2" y2="258.55" stroke="#808080" stroke-width="1"/>
<line x1="543.7" y1="258.55" x2="542.1" y2="258.55" stroke="#808080" stroke-width="1"/>
<line x1="424.6" y1="234.9" x2="426.2" y2="234.9" stroke="#808080" stroke-width="1"/>
<line x1="543.7" y1="234.9" x2="542.1" y2="234.9" stroke="#808080" stroke-width="1"/>
<line x1="424.6" y1="211.25" x2="426.2" y2="211.25" stroke="#808080" stroke-width="1"/>
<line x1="543.7" y1="211.25" x2="542.1" y2="211.25" stroke="#808080" stroke-width="1"/>
<line x1="424.6" y1="187.6" x2="426.2" y2="187.6" stroke="#808080" stroke-width="1"/>
<line x1="543.7" y1="187.6" x2="542.1" y2="187.6" stroke="#808080" stroke-width="1"/>
<rect x="424.5" y="187.5" width="119" height="142" fill="none" stroke="#808080" stroke-width="1"/>
<polyline points="508.96,226.39 533.78,287.4" fill="none" stroke="#EDB120" stroke-width="2.1" stroke-linejoin="round" stroke-linecap="round"/>
<polygon points="508.96,222.39 505.06,229.29 512.86,229.29" fill="#EDB120"/>
<polygon points="533.78,283.4 529.88,290.3 537.68,290.3" fill="#EDB120"/>
<polyline points="459.34,227.81 484.15,287.88 508.96,246.72 533.78,287.88" fill="none" stroke="#7E2F8E" stroke-width="2.1" stroke-linejoin="round" stroke-linecap="round"/>
<circle cx="459.34" cy="227.81" r="2.25" fill="none" stroke="#7E2F8E" stroke-width="1.8"/>
<circle cx="484.15" cy="287.88" r="2.25" fill="none" stroke="#7E2F8E" stroke-width="1.8"/>
<circle cx="508.96" cy="246.72" r="2.25" fill="none" stroke="#7E2F8E" stroke-width="1.8"/>
<circle cx="533.78" cy="287.88" r="2.25" fill="none" stroke="#7E2F8E" stroke-width="1.8"/>
<polyline points="459.34,226.86 484.15,239.16 508.96,296.86 533.78,290.24" fill="none" stroke="#77AC30" stroke-width="2.1" stroke-linejoin="round" stroke-linecap="round"/>
<polygon points="459.34,230.86 455.44,223.96 463.24,223.96" fill="#77AC30"/>
<polygon points="484.15,243.16 480.25,236.26 488.05,236.26" fill="#77AC30"/>
<polygon points="508.96,300.86 505.06,293.96 512.86,293.96" fill="#77AC30"/>
<polygon points="533.78,294.24 529.88,287.34 537.68,287.34" fill="#77AC30"/>
<polyline points="434.53,300.65 459.34,298.28 484.15,292.13 508.96,255.71 533.78,258.08" fill="none" stroke="#4DBEEE" stroke-width="2.1" stroke-linejoin="round" stroke-linecap="round"/>
<circle cx="434.53" cy="300.65" r="2.4" fill="#4DBEEE"/>
<circle cx="459.34" cy="298.28" r="2.4" fill="#4DBEEE"/>
<circle cx="484.15" cy="292.13" r="2.4" fill="#4DBEEE"/>
<circle cx="508.96" cy="255.71" r="2.4" fill="#4DBEEE"/>
<circle cx="533.78" cy="258.08" r="2.4" fill="#4DBEEE"/>
<text x="532" y="201.8" text-anchor="end" class="t">50m</text>
<text x="434.53" y="339.5" text-anchor="middle" class="tk">20</text>
<text x="459.34" y="339.5" text-anchor="middle" class="tk">25</text>
<text x="484.15" y="339.5" text-anchor="middle" class="tk">30</text>
<text x="508.96" y="339.5" text-anchor="middle" class="tk">35</text>
<text x="533.78" y="339.5" text-anchor="middle" class="tk">40</text>
<rect x="130.4" y="5.5" width="318.3" height="21.1" fill="#fff" stroke="#808080" stroke-width="1.1"/>
<line x1="146.8" y1="15.7" x2="166.8" y2="15.7" stroke="#0072BD" stroke-width="2.4"/>
<polygon points="156.8,10.8 157.98,14.08 161.46,14.19 158.7,16.32 159.68,19.66 156.8,17.7 153.92,19.66 154.9,16.32 152.14,14.19 155.62,14.08" fill="#0072BD"/>
<text x="168.3" y="19.3" class="lg">s=1/4</text>
<line x1="196.6" y1="15.7" x2="216.6" y2="15.7" stroke="#D95319" stroke-width="2.4"/>
<circle cx="206.6" cy="15.7" r="2.4" fill="#D95319"/>
<text x="218.1" y="19.3" class="lg">s=1/3</text>
<line x1="246" y1="15.7" x2="266" y2="15.7" stroke="#EDB120" stroke-width="2.4"/>
<polygon points="256,11.7 252.1,18.6 259.9,18.6" fill="#EDB120"/>
<text x="267.5" y="19.3" class="lg">s=1/2</text>
<line x1="295.6" y1="15.7" x2="315.6" y2="15.7" stroke="#7E2F8E" stroke-width="2.4"/>
<circle cx="305.6" cy="15.7" r="2.25" fill="none" stroke="#7E2F8E" stroke-width="1.8"/>
<text x="317.1" y="19.3" class="lg">s=2/3</text>
<line x1="345" y1="15.7" x2="365" y2="15.7" stroke="#77AC30" stroke-width="2.4"/>
<polygon points="355,19.7 351.1,12.8 358.9,12.8" fill="#77AC30"/>
<text x="366.5" y="19.3" class="lg">s=3/4</text>
<line x1="394.5" y1="15.7" x2="414.5" y2="15.7" stroke="#4DBEEE" stroke-width="2.4"/>
<circle cx="404.5" cy="15.7" r="2.4" fill="#4DBEEE"/>
<text x="416" y="19.3" class="lg">s=1</text>
<text class="lab" x="289.1" y="359.1" text-anchor="middle">length of target side/cm</text>
<text class="lab" transform="translate(11.6,174) rotate(-90)" text-anchor="middle">localization error/pixel</text>
</svg>
</body></html>
